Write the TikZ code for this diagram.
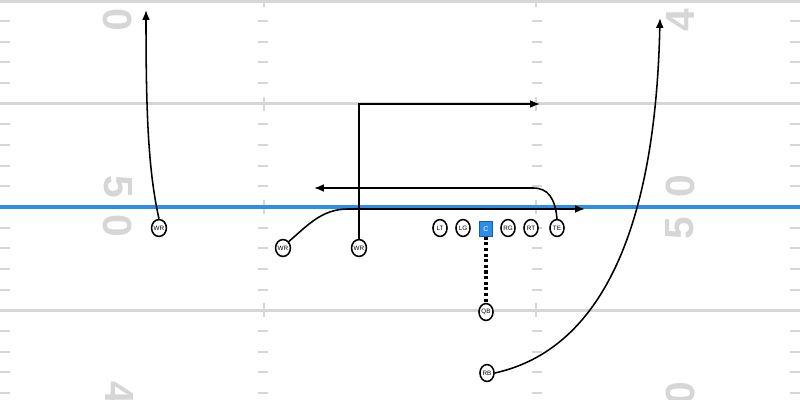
\documentclass[tikz,border=0pt]{standalone}
\usepackage{fontspec}
\setmainfont{Liberation Sans}
\usetikzlibrary{shapes,arrows.meta,positioning}
\usepackage{xcolor}
\definecolor{fieldgrey}{RGB}{214,214,214}
\definecolor{losblue}{RGB}{44,142,232}
\definecolor{snapblue}{RGB}{20,95,180}

\begin{document}
\begin{tikzpicture}[x=0.025cm, y=-0.025cm,
        player/.style={draw, ellipse, line width=1.1pt, fill=white, inner sep=0pt,
            minimum width=10pt, minimum height=12pt, font=\fontsize{4.5}{5}\selectfont},
        snapper/.style={draw=snapblue, fill=losblue, text=white, inner sep=0pt,
            minimum width=9pt, minimum height=10.5pt, font=\fontsize{5}{5}\selectfont},
        route/.style={line width=1.1pt, -{Latex[length=7pt,width=5.5pt]}},
        hash/.style={fieldgrey, line width=1.6pt},
        yardnum/.style={fieldgrey, font=\fontsize{29}{29}\selectfont\bfseries}]
        \useasboundingbox (0,0) rectangle (800,400);
        \clip (0,0) rectangle (800,400);
        \fill[white] (0,0) rectangle (800,400);

        % yard lines and hash marks
        \foreach \y in {1,103.7,310.3}
            \draw[fieldgrey, line width=2.2pt] (0,\y) -- (800,\y);
        \foreach \k in {-2,...,1}
            \foreach \j in {1,...,4}
                \foreach \x in {0,258,532,790}
                    \draw[hash] (\x,{207+103.33*(\k)+20.67*\j}) -- ++(10,0);
        \foreach \y in {0.3,103.7,207,310.3}
            \foreach \x in {264,536}
                \draw[hash] (\x,\y-7) -- (\x,\y+7);
        \draw[losblue, line width=2.8pt] (0,207) -- (800,207);

        % yard numbers
        \node[yardnum, rotate=-90] (topl0) at (118,20) {0};
        \node[yardnum, rotate=-90] (midl5) at (118,187) {5};
        \node[yardnum, rotate=-90] (midl0) at (118,226) {0};
        \node[yardnum, rotate=-90] (botl4) at (120,393) {4};
        \node[yardnum, rotate=90] (topr4) at (680,20) {4};
        \node[yardnum, rotate=90] (midr0) at (680,186) {0};
        \node[yardnum, rotate=90] (midr5) at (680,228) {5};
        \node[yardnum, rotate=90] (botr0) at (680,393) {0};

        % players
        \node[player] (wr1) at (159,228) {WR};
        \node[player] (wr2) at (283,248) {WR};
        \node[player] (wr3) at (359,248) {WR};
        \node[player] (lt) at (440,228) {LT};
        \node[player] (lg) at (463,228) {LG};
        \node[snapper] (c) at (486,229) {C};
        \node[player] (rg) at (508,228) {RG};
        \node[player] (rt) at (531,228) {RT};
        \node[player] (te) at (557,228) {TE};
        \node[player] (qb) at (486,312) {QB};
        \node[player] (rb) at (487,373) {RB};

        % routes
        \coordinate (wr1end) at (146,10);
        \coordinate (wr2end) at (585,209);
        \coordinate (wr3end) at (540,104);
        \coordinate (teend) at (314,188);
        \coordinate (rbend) at (660,18);
        \draw[route] (wr1.north) .. controls (148,170) and (146,110) .. (wr1end);
        \draw[route] (wr2.north east) .. controls (308,225) and (322,209) .. (348,209) -- (wr2end);
        \draw[route] (wr3.north) |- (wr3end);
        \draw[route] (te.north) .. controls (555,198) and (548,188) .. (533,188) -- (teend);
        \draw[route] (rb.east) .. controls (590,352) and (655,250) .. (rbend);
        \draw[line width=2.2pt, dash pattern=on 2.2pt off 1.8pt] (c.south) -- (qb.north);
    \end{tikzpicture}
\end{document}
